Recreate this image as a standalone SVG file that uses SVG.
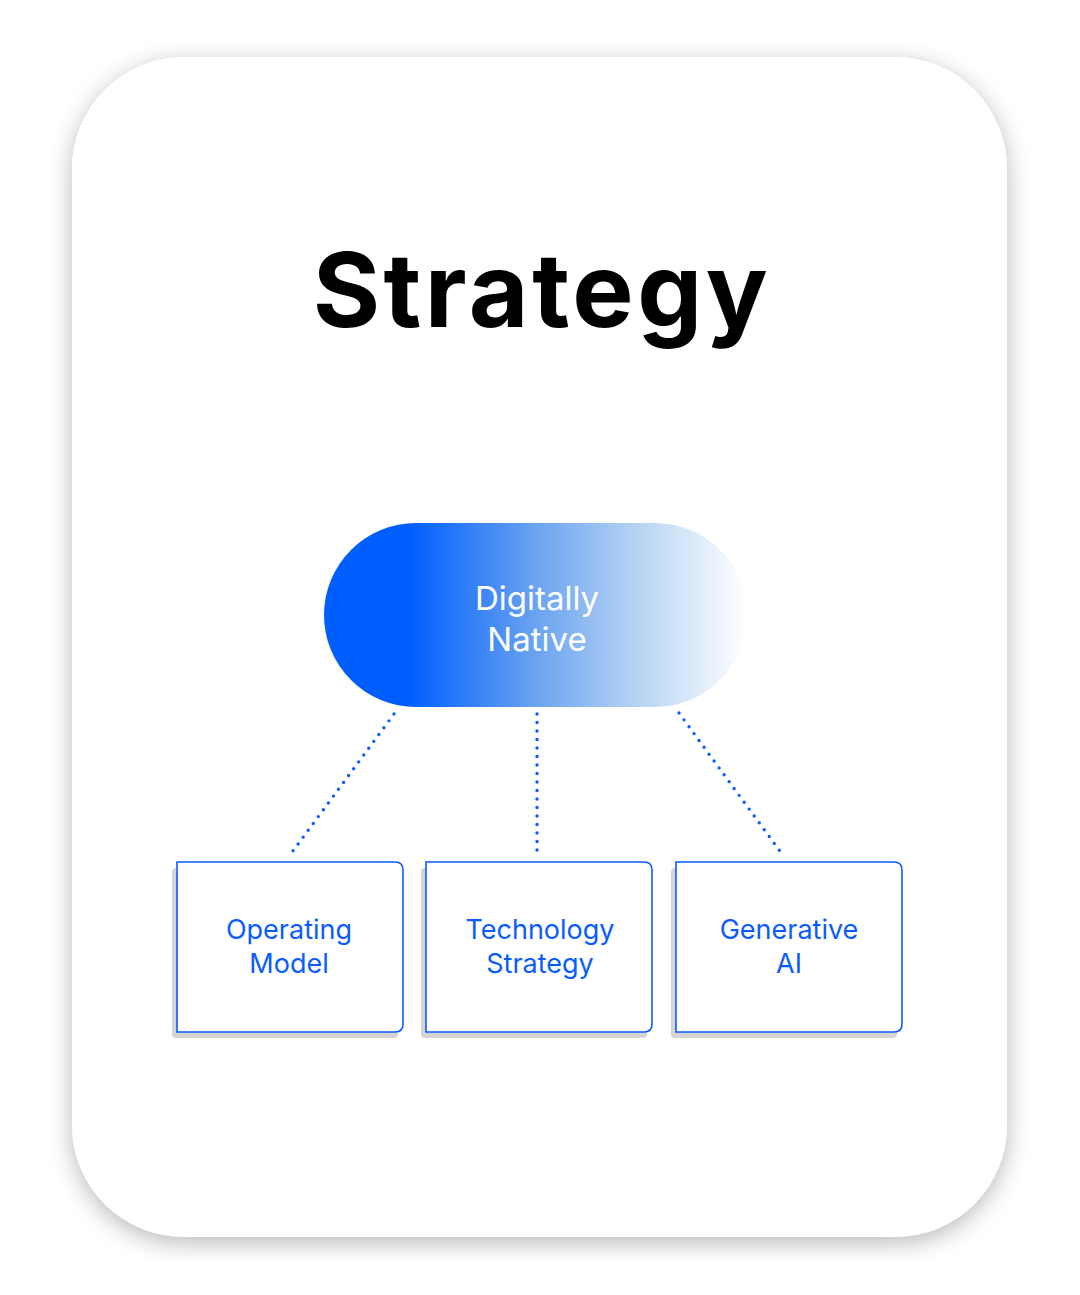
<svg xmlns="http://www.w3.org/2000/svg" width="1080" height="1295" viewBox="0 0 1080 1295">
<defs>
<filter id="cardShadow" x="-10%" y="-10%" width="120%" height="120%">
<feGaussianBlur in="SourceAlpha" stdDeviation="12"/>
<feOffset dx="0" dy="6" result="b"/>
<feComponentTransfer><feFuncA type="linear" slope="0.28"/></feComponentTransfer>
<feMerge><feMergeNode/><feMergeNode in="SourceGraphic"/></feMerge>
</filter>
<linearGradient id="pillGrad" x1="324" y1="0" x2="747" y2="0" gradientUnits="userSpaceOnUse">
<stop offset="0" stop-color="#005EFF"/>
<stop offset="0.2" stop-color="#005EFF"/>
<stop offset="0.5" stop-color="#6AA3F0"/>
<stop offset="0.75" stop-color="#B9D5F3"/>
<stop offset="1" stop-color="#FFFFFF"/>
</linearGradient>
<style>
.box{fill:#ffffff;stroke:#0A5CFF;stroke-width:1.6}
.boxsh{fill:#D4D4D4}
.lbl{font-family:Inter,"Liberation Sans",sans-serif;font-size:27px;fill:#0A5CFF;text-anchor:middle}
.conn{stroke:#0A5CFF;stroke-width:3.4;stroke-linecap:round;stroke-dasharray:0 8.5;fill:none}
</style>
</defs>
<rect width="1080" height="1295" fill="#ffffff"/>
<rect x="72" y="57" width="935" height="1180" rx="112" fill="#ffffff" filter="url(#cardShadow)"/>
<text x="542" y="327" font-family="Inter,'Liberation Sans',sans-serif" font-weight="700" font-size="103" letter-spacing="3.5" text-anchor="middle" fill="#000000">Strategy</text>
<g id="connectors">
<line class="conn" x1="394" y1="714" x2="290" y2="855"/>
<line class="conn" x1="537" y1="714" x2="537" y2="857"/>
<line class="conn" x1="679" y1="713" x2="782" y2="854"/>
</g>
<g id="digitally-native">
<rect x="324" y="523" width="423" height="184" rx="92" fill="url(#pillGrad)"/>
<text font-family="Inter,'Liberation Sans',sans-serif" font-size="33" fill="#ffffff" text-anchor="middle"><tspan x="537" y="610">Digitally</tspan><tspan x="537" y="651">Native</tspan></text>
</g>
<g id="operating-model">
<rect class="boxsh" x="172" y="868" width="226" height="170" rx="4"/>
<path class="box" d="M177,862 H395 Q403,862 403,870 V1024 Q403,1032 395,1032 H177 Z"/>
<text class="lbl"><tspan x="289" y="939">Operating</tspan><tspan x="289" y="973">Model</tspan></text>
</g>
<g id="technology-strategy">
<rect class="boxsh" x="421" y="868" width="226" height="170" rx="4"/>
<path class="box" d="M426,862 H644 Q652,862 652,870 V1024 Q652,1032 644,1032 H426 Z"/>
<text class="lbl"><tspan x="540" y="939">Technology</tspan><tspan x="540" y="973">Strategy</tspan></text>
</g>
<g id="generative-ai">
<rect class="boxsh" x="671" y="868" width="226" height="170" rx="4"/>
<path class="box" d="M676,862 H894 Q902,862 902,870 V1024 Q902,1032 894,1032 H676 Z"/>
<text class="lbl"><tspan x="789" y="939">Generative</tspan><tspan x="789" y="973">AI</tspan></text>
</g>
</svg>
